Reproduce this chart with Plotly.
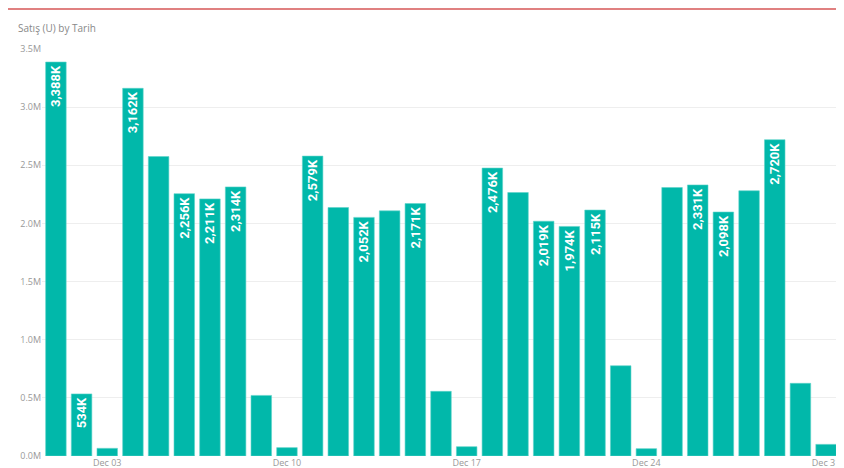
import pandas as pd
import plotly.graph_objects as go

# daily sales, December
tarih = pd.date_range("2017-12-01", "2017-12-31", freq="D")
satis = [3388, 534, 66, 3162, 2575, 2256, 2211, 2314, 521, 72,
         2579, 2137, 2052, 2108, 2171, 556, 80, 2476, 2266, 2019,
         1974, 2115, 776, 63, 2309, 2331, 2098, 2281, 2720, 625, 100]
etiketli = [1, 2, 4, 6, 7, 8, 11, 13, 15, 18, 20, 21, 22, 26, 27, 29]  # days with data labels
tick_gunler = [3, 10, 17, 24, 31]
y_ticks = [0, 0.5e6, 1e6, 1.5e6, 2e6, 2.5e6, 3e6, 3.5e6]
y_labels = ["0.0M", "0.5M", "1.0M", "1.5M", "2.0M", "2.5M", "3.0M", "3.5M"]

degerler = [v * 1000 for v in satis]
etiketler = [f"{v:,}K" if d.day in etiketli else "" for d, v in zip(tarih, satis)]

fig = go.Figure()
fig.add_trace(go.Bar(
    x=tarih, y=degerler, text=etiketler,
    textposition="inside", insidetextanchor="end", textangle=-90,
    constraintext="none",
    textfont=dict(family="Roboto", size=13, color="white", weight="bold"),
    marker=dict(color="#01B8AA", line=dict(color="#5fd3c9", width=0.6)),
    hoverinfo="x+y",
))

fig.update_layout(
    width=844, height=468,
    margin=dict(l=34, r=12, t=41, b=20),
    plot_bgcolor="white", paper_bgcolor="white",
    bargap=0.2, showlegend=False,
    font=dict(family="Segoe UI, Open Sans, sans-serif", color="#999999", size=9),
    shapes=[dict(type="line", xref="paper", yref="paper", x0=-0.05, x1=1.05,
                 y0=1.0 + 40 / 407, y1=1.0 + 40 / 407, line=dict(color="#e08080", width=2))],
    annotations=[dict(text="Satış (U) by Tarih", xref="paper", yref="paper",
                      x=-0.033, y=1.0 + 12 / 407, xanchor="left", yanchor="bottom",
                      showarrow=False, font=dict(size=10, color="#888888"))],
)
fig.update_xaxes(
    tickvals=[tarih[d - 1] for d in tick_gunler],
    ticktext=[f"Dec {d:02d}" for d in tick_gunler],
    showgrid=False, showline=False, ticks="", automargin=False,
    range=[tarih[0] - pd.Timedelta(hours=13), tarih[-1] + pd.Timedelta(hours=13)],
)
fig.update_yaxes(
    range=[0, 3.5e6], tickvals=y_ticks, ticktext=y_labels, automargin=False,
    showgrid=True, gridcolor="#eeeeee", zeroline=False, ticks="",
)

fig.write_html("out.html")
